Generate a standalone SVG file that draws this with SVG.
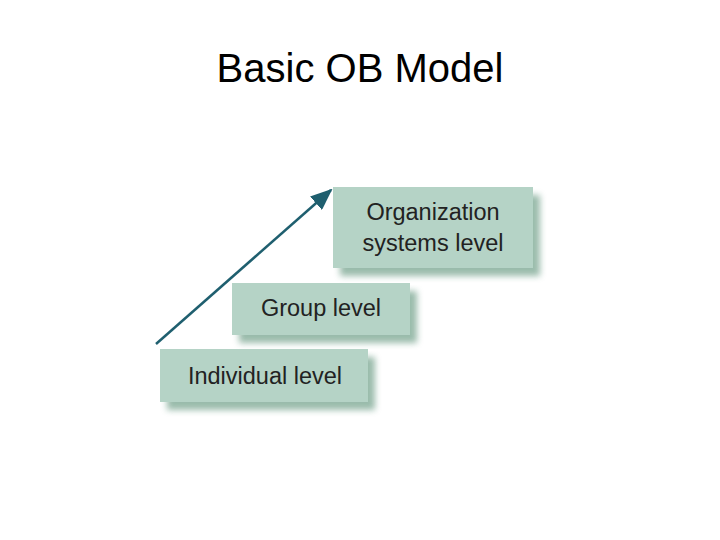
<svg xmlns="http://www.w3.org/2000/svg" width="720" height="540" viewBox="0 0 720 540">
<defs>
<filter id="sh" x="-10%" y="-10%" width="130%" height="140%"><feGaussianBlur stdDeviation="3"/></filter>
<marker id="ah" markerWidth="22" markerHeight="18" refX="20" refY="9" orient="auto" markerUnits="userSpaceOnUse" viewBox="0 0 22 18"><path d="M0,0 L22,9 L0,18 z" fill="#1f5f6f"/></marker>
</defs>
<style>
.box{fill:#b5d3c6}.shd{fill:#6f9f88;opacity:.7;filter:url(#sh)}
.t{font-family:"Liberation Sans",Arial,sans-serif;font-size:23.5px;fill:#222}
</style>
<rect width="720" height="540" fill="#fff"/>
<text x="360" y="82" text-anchor="middle" style="font-family:'Liberation Sans',Arial,sans-serif;font-size:40px" fill="#000">Basic OB Model</text>
<g id="org"><rect class="shd" x="340" y="195" width="200" height="81"/><rect class="box" x="333" y="187" width="200" height="81"/><text class="t" x="433" y="220" text-anchor="middle">Organization</text><text class="t" x="433" y="251" text-anchor="middle">systems level</text></g>
<g id="group"><rect class="shd" x="239" y="291" width="178" height="52"/><rect class="box" x="232" y="283" width="178" height="52"/><text class="t" x="321" y="316" text-anchor="middle">Group level</text></g>
<g id="individual"><rect class="shd" x="167" y="357" width="208" height="53"/><rect class="box" x="160" y="349" width="208" height="53"/><text class="t" x="265" y="384" text-anchor="middle">Individual level</text></g>
<g id="connectors"><line x1="156" y1="344" x2="331" y2="190" stroke="#1f5f6f" stroke-width="2.5" marker-end="url(#ah)"/></g>
</svg>
